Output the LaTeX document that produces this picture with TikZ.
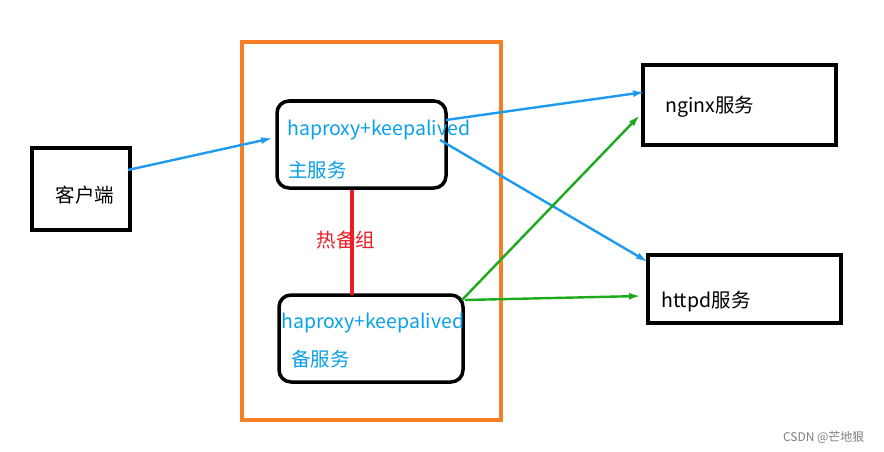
\documentclass[tikz,border=0pt]{standalone}
\usepackage{fontspec}
\setmainfont{Noto Sans CJK SC}
\usetikzlibrary{arrows.meta}
\definecolor{tblue}{HTML}{1E9BF0}
\definecolor{tgreen}{HTML}{1DAA1D}
\definecolor{torange}{HTML}{F47F24}
\definecolor{tred}{HTML}{EE1C25}
\definecolor{ttext}{HTML}{0AA0E8}
\tikzset{
 blk/.style={draw=black,line width=3.5pt,inner sep=0pt},
 rbox/.style={draw=black,line width=3.5pt,rounded corners=12pt,inner sep=0pt},
 lbl/.style={font=\fontsize{19.5}{22}\selectfont,inner sep=0pt},
 barr/.style={draw=tblue,line width=2.4pt,-{Latex[length=12pt,width=7pt]}},
 garr/.style={draw=tgreen,line width=2.4pt,-{Latex[length=12pt,width=7pt]}},
}
\begin{document}
\begin{tikzpicture}[x=1pt,y=-1pt]
\useasboundingbox[fill=white] (0,0) rectangle (884,452);
\draw[torange,line width=3.5pt] (242,42) rectangle (501,420);
\node[blk,minimum width=98pt,minimum height=82pt] (client) at (81,189) {};
\node[lbl] at (85,195) {客户端};
\node[rbox,minimum width=169pt,minimum height=87pt] (main) at (361.5,144.5) {};
\node[lbl,text=ttext,anchor=west] at (287,130) {haproxy+keepalived};
\node[lbl,text=ttext,anchor=west] at (288,170) {主服务};
\node[rbox,minimum width=184pt,minimum height=87pt] (bak) at (371,338.5) {};
\node[lbl,text=ttext,anchor=west] at (281,323) {haproxy+keepalived};
\node[lbl,text=ttext,anchor=west] at (291,359) {备服务};
\node[blk,minimum width=193pt,minimum height=80pt] (nginx) at (739.5,105) {};
\node[lbl,anchor=west] at (665,107) {nginx服务};
\node[blk,minimum width=193pt,minimum height=68pt] (httpd) at (744.5,289) {};
\node[lbl,anchor=west] at (661,302) {httpd服务};
\draw[tred,line width=3.5pt] (352,190) -- (352,295);
\node[lbl,text=tred] at (346,240) {热备组};
\coordinate (c1) at (128,170);
\coordinate (m1) at (273,138);
\draw[barr] (c1) -- (m1);
\draw[barr] (446,120) -- (645,92);
\draw[barr] (440,140) -- (648,262);
\draw[garr] (462,300) -- (640,115);
\draw[garr] (465,300) -- (641,296);
\node[font=\fontsize{12}{14}\selectfont,text=gray,anchor=east] at (868,437) {CSDN @芒地狠};
\end{tikzpicture}
\end{document}
